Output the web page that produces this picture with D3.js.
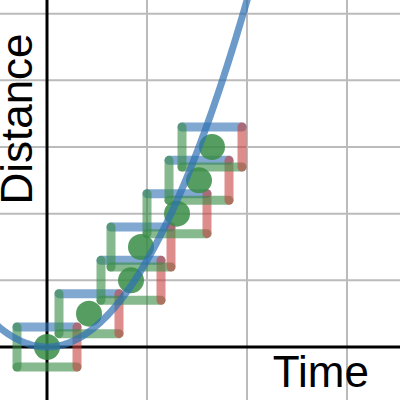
<!DOCTYPE html><html><head><script src="https://cdn.jsdelivr.net/npm/d3@7"></script>
<style>body{margin:0}</style></head><body><script>
const xs=[0,0.42,0.84,0.94,1.30,1.52,1.65];
const ys=[0,0.5,1,1.5,2,2.5,3];
const errX=0.3, errY=0.3;
const xGrid=[1,2,3];
const yGridAll=[1,2,3,4,5];
const W=400,H=400;
const x=d3.scaleLinear().domain([-0.47,3.53]).range([0,400]);
const y=d3.scaleLinear().domain([-0.795,5.205]).range([400,0]);
const svg=d3.select("body").append("svg").attr("width",W).attr("height",H);
svg.append("rect").attr("width",W).attr("height",H).attr("fill","#fff");
const g=svg.append("g");
g.selectAll(".vx").data(xGrid).join("line").attr("x1",d=>x(d)).attr("x2",d=>x(d)).attr("y1",0).attr("y2",H).attr("stroke","#bbb").attr("stroke-width",2);
g.selectAll(".hy").data(yGridAll).join("line").attr("y1",d=>y(d)).attr("y2",d=>y(d)).attr("x1",0).attr("x2",W).attr("stroke","#bbb").attr("stroke-width",2);
g.append("line").attr("x1",x(0)).attr("x2",x(0)).attr("y1",0).attr("y2",H).attr("stroke","#000").attr("stroke-width",3);
g.append("line").attr("y1",y(0)).attr("y2",y(0)).attr("x1",0).attr("x2",W).attr("stroke","#000").attr("stroke-width",3);
const pts=xs.map((v,i)=>[v,ys[i]]);
const seg=(a,b,c)=>svg.append("line").attr("x1",x(a[0])).attr("y1",y(a[1])).attr("x2",x(b[0])).attr("y2",y(b[1])).attr("stroke",c).attr("stroke-width",9).attr("stroke-linecap","round").attr("opacity",0.6);
pts.forEach(([px,py])=>{
  const l=px-errX,r=px+errX,t=py+errY,b=py-errY;
  seg([l,t],[r,t],"#2d70b3");
  seg([l,t],[l,b],"#388c46");
  seg([l,b],[r,b],"#388c46");
  seg([r,t],[r,b],"#c74440");
});
svg.selectAll("circle").data(pts).join("circle").attr("cx",d=>x(d[0])).attr("cy",d=>y(d[1])).attr("r",13).attr("fill","#388c46").attr("opacity",0.85);
const cx=d3.range(-0.6,2.2,0.01);
svg.append("path").attr("d",d3.line().x(d=>x(d)).y(d=>y(1.3*d*d))(cx)).attr("fill","none").attr("stroke","#2d70b3").attr("stroke-width",7).attr("opacity",0.7);
svg.append("text").attr("x",369).attr("y",387).attr("text-anchor","end").attr("font-family","Liberation Sans, Arial").attr("font-size",44).text("Time");
svg.append("text").attr("transform","translate(32,119) rotate(-90)").attr("text-anchor","middle").attr("font-family","Liberation Sans, Arial").attr("font-size",44).text("Distance");
</script></body></html>
